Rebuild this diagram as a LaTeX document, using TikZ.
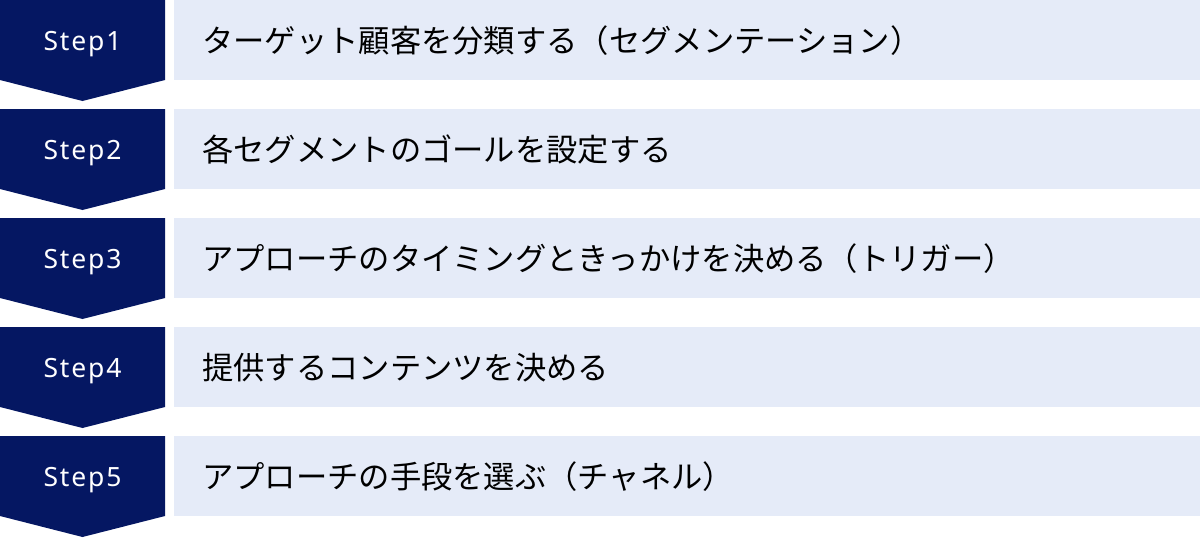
\documentclass[tikz,border=0pt]{standalone}
\usepackage{fontspec}
\setmainfont{Noto Sans CJK JP}
\newfontfamily\stepfont{Noto Sans}[LetterSpace=7]
\usetikzlibrary{positioning}
\definecolor{navy}{HTML}{051762}
\definecolor{paleblue}{HTML}{E5EBF8}
\tikzset{
	every node/.style = {font=\fontsize{31.3}{36}\selectfont},
	steplabel/.style = {text=white, inner sep=0pt, anchor=base, font=\stepfont\fontsize{26.5}{30}\selectfont},
	stepband/.style = {fill=paleblue, anchor=north west, minimum width=1026pt, minimum height=80pt,
		inner xsep=28pt, text width=970pt, align=left}
}

\begin{document}
\begin{tikzpicture}[x=1pt, y=1pt]
		\useasboundingbox (0,0) rectangle (1200,-538);
		% steps
		\foreach \i/\txt in {1/ターゲット顧客を分類する（セグメンテーション）,
			2/各セグメントのゴールを設定する,
			3/アプローチのタイミングときっかけを決める（トリガー）,
			4/提供するコンテンツを決める,
			5/アプローチの手段を選ぶ（チャネル）}
		{
			\pgfmathsetmacro{\ytop}{-109*(\i-1)}
			\fill[navy] (0,\ytop) -- (165,\ytop) -- (165,\ytop-80) -- (82.5,\ytop-101) -- (0,\ytop-80) -- cycle;
			\node[steplabel] (step\i) at (82.5,\ytop-50) {Step\i};
			\node[stepband] (band\i) at (174,\ytop) {\txt};
		}
	\end{tikzpicture}
\end{document}
